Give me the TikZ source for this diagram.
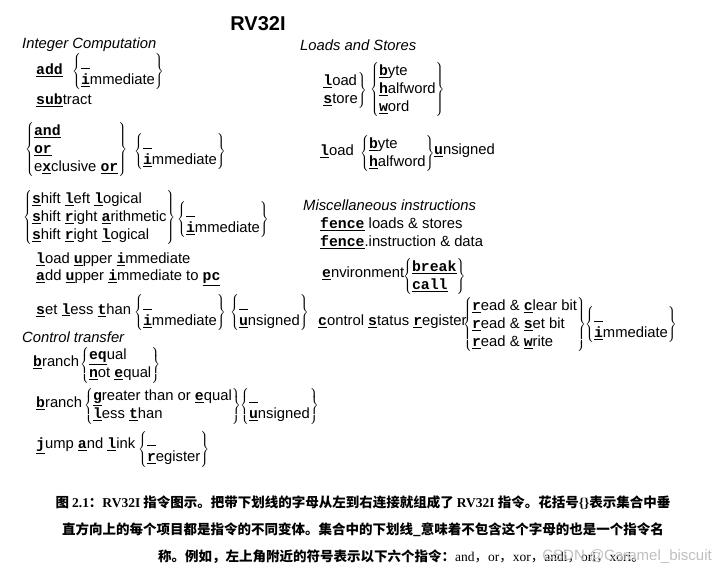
\documentclass[tikz,border=0pt]{standalone}
\usepackage{fontspec}
\setmainfont{Liberation Sans}
\setmonofont{Liberation Mono}
\newfontfamily\cjk{Noto Sans CJK SC}
\newfontfamily\tnr{Liberation Serif}
\newcommand{\ux}[1]{\underline{\texttt{\bfseries #1}}}
\newcommand{\stub}{\ux{\phantom{i}}}
\newcommand{\grp}[1]{$\left\{\begin{tabular}{@{}l@{}}#1\end{tabular}\right\}$}
\newcommand{\rgrp}[1]{$\left.\begin{tabular}{@{}l@{}}#1\end{tabular}\right\}$}
\begin{document}
\begin{tikzpicture}[x=1pt,y=-1pt,
  t/.style={anchor=west,inner sep=0pt,font=\fontsize{14.8}{18}\selectfont},
  hd/.style={t,font=\fontsize{14.8}{18}\selectfont\itshape},
  captxt/.style={inner sep=0pt,font=\fontsize{13.5}{16}\selectfont\bfseries\cjk}]
\useasboundingbox (0,0) rectangle (726,577);
\node[inner sep=0pt,font=\fontsize{20}{22}\selectfont\bfseries] (title) at (258,24) {RV32I};
% left column
\node[hd] (ic) at (22,45) {Integer Computation};
\node[t] (add) at (36,70) {\ux{add}};
\node[t] (g1) at (72,72) {\grp{\stub\\\ux{i}mmediate}};
\node[t] (sub) at (36,100) {\ux{sub}tract};
\node[t] (g2) at (25,150) {\grp{\ux{and}\\\ux{or}\\e\ux{x}clusive \ux{or}}};
\node[t] (g3) at (134,152) {\grp{\stub\\\ux{i}mmediate}};
\node[t] (g4) at (23,218) {\grp{\ux{s}hift \ux{l}eft \ux{l}ogical\\\ux{s}hift \ux{r}ight \ux{a}rithmetic\\\ux{s}hift \ux{r}ight \ux{l}ogical}};
\node[t] (g5) at (177,220) {\grp{\stub\\\ux{i}mmediate}};
\node[t] (lui) at (36,260) {\ux{l}oad \ux{u}pper \ux{i}mmediate};
\node[t] (auipc) at (36,278) {\ux{a}dd \ux{u}pper \ux{i}mmediate to \ux{pc}};
\node[t] (slt) at (36,310) {\ux{s}et \ux{l}ess \ux{t}han};
\node[t] (g6) at (134,313) {\grp{\stub\\\ux{i}mmediate}};
\node[t] (g7) at (230,313) {\grp{\stub\\\ux{u}nsigned}};
\node[hd] (ct) at (22,337) {Control transfer};
\node[t] (br1) at (33,362) {\ux{b}ranch};
\node[t] (g8) at (80,365) {\grp{\ux{eq}ual\\\ux{n}ot \ux{e}qual}};
\node[t] (br2) at (36,403) {\ux{b}ranch};
\node[t] (g9) at (84,406) {\grp{\ux{g}reater than or \ux{e}qual\\\ux{l}ess \ux{t}han}};
\node[t] (g10) at (240,406) {\grp{\stub\\\ux{u}nsigned}};
\node[t] (jal) at (36,446) {\ux{j}ump \ux{a}nd \ux{l}ink};
\node[t] (g11) at (138,449) {\grp{\stub\\\ux{r}egister}};
% right column
\node[hd] (ls) at (300,45) {Loads and Stores};
\node[t] (g12) at (322,91) {\rgrp{\ux{l}oad\\\ux{s}tore}};
\node[t] (g13) at (370,90) {\grp{\ux{b}yte\\\ux{h}alfword\\\ux{w}ord}};
\node[t] (ld) at (320,151) {\ux{l}oad};
\node[t] (g14) at (360,154) {\grp{\ux{b}yte\\\ux{h}alfword}};
\node[t] (uns) at (434,151) {\ux{u}nsigned};
\node[hd] (mi) at (303,205) {Miscellaneous instructions};
\node[t] (f1) at (320,224) {\ux{fence} loads \& stores};
\node[t] (f2) at (320,242) {\ux{fence}.instruction \& data};
\node[t] (env) at (322,273) {\ux{e}nvironment};
\node[t] (g15) at (403,277) {\grp{\ux{break}\\\ux{call}}};
\node[t] (csr) at (318,322) {\ux{c}ontrol \ux{s}tatus \ux{r}egister};
\node[t] (g16) at (463,325) {\grp{\ux{r}ead \& \ux{c}lear bit\\\ux{r}ead \& \ux{s}et bit\\\ux{r}ead \& \ux{w}rite}};
\node[t] (g17) at (585,325) {\grp{\stub\\\ux{i}mmediate}};
% caption
\node[captxt] (c1) at (363,503) {图 {\tnr 2.1}：{\tnr RV32I} 指令图示。把带下划线的字母从左到右连接就组成了 {\tnr RV32I} 指令。花括号{\tnr\{\}}表示集合中垂};
\node[captxt] (c2) at (363,530) {直方向上的每个项目都是指令的不同变体。集合中的下划线\_意味着不包含这个字母的也是一个指令名};
\node[captxt,anchor=west] (c3) at (158,557) {称。例如，左上角附近的符号表示以下六个指令：{\mdseries{\tnr and}，{\tnr or}，{\tnr xor}，{\tnr andi}，{\tnr ori}，{\tnr xori}。}};
\node[inner sep=0pt,anchor=east,text=gray!50,font=\fontsize{15}{16}\selectfont] (wm) at (712,557) {CSDN @Caramel\_biscuit};
\end{tikzpicture}
\end{document}
